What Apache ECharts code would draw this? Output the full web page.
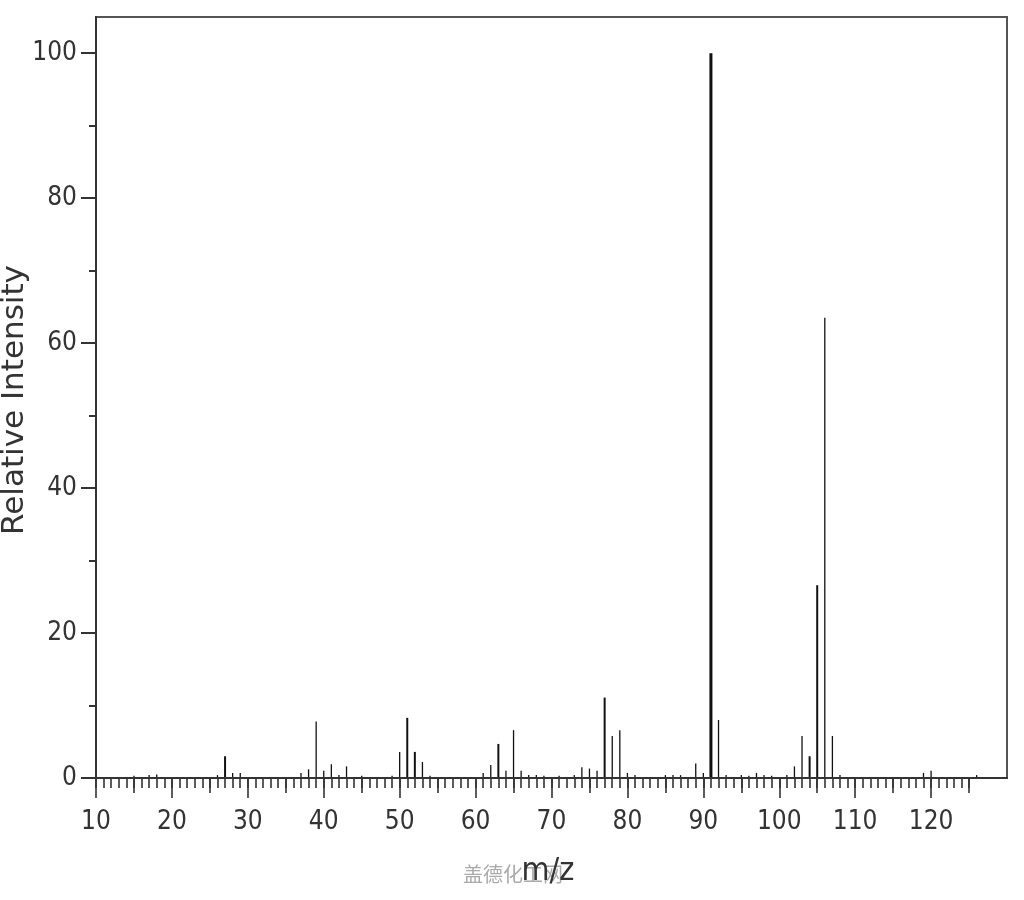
<!DOCTYPE html>
<html><head><meta charset="utf-8">
<script src="https://cdn.jsdelivr.net/npm/echarts@6/dist/echarts.min.js"></script>
<style>html,body{margin:0;padding:0;background:#fff}#c{width:1024px;height:900px}</style>
</head><body><div id="c"></div>
<script>
// ---- data ----
const mzValues = [15,17,18,26,27,28,29,37,38,39,40,41,42,43,45,49,50,51,52,53,54,
  61,62,63,64,65,66,67,68,69,71,73,74,75,76,77,78,79,80,81,85,86,87,89,90,91,92,93,
  95,96,97,98,99,101,102,103,104,105,106,107,108,119,120,126];
const intensities = [0.3,0.4,0.5,0.4,3.0,0.7,0.7,0.7,1.2,7.8,1.0,1.9,0.4,1.6,0.3,0.3,3.6,8.3,3.6,2.2,0.3,
  0.7,1.8,4.7,1.0,6.6,1.0,0.4,0.4,0.3,0.3,0.4,1.5,1.3,1.0,11.1,5.8,6.6,0.7,0.4,0.4,0.4,0.4,2.0,0.7,100,8.0,0.4,
  0.4,0.3,0.7,0.4,0.3,0.4,1.6,5.8,3.0,26.6,63.5,5.8,0.4,0.7,1.0,0.4];
const xTickLabels = [10,20,30,40,50,60,70,80,90,100,110,120];
const yTickLabels = [0,20,40,60,80,100];
const yMinorTicks = [10,30,50,70,90];
const xTitle = 'm/z';
const yTitle = 'Relative Intensity';
const watermark = '盖德化工网';

// ---- style helpers ----
const thickPeaks = new Set([27,51,52,63,77,104,105]);
const xMidTicks = []; for (let v = 15; v <= 125; v += 10) xMidTicks.push(v);
const xUnitTicks = []; for (let v = 10; v <= 125; v++) xUnitTicks.push(v);
const numFont = "'Liberation Sans Narrow','DejaVu Sans Condensed',sans-serif";
const axisColor = '#333';

const chart = echarts.init(document.getElementById('c'), null, {renderer: 'canvas'});
const peaks = mzValues.map((m, i) => [m, intensities[i]]);

function xAx(ticks, len, main) {
  return {
    type: 'value', min: 10, max: 130, position: 'bottom', gridIndex: 0,
    axisLine: {show: main, onZero: false, lineStyle: {color: axisColor, width: 2}},
    axisTick: {show: true, customValues: ticks, length: len, lineStyle: {color: axisColor, width: 1.6}},
    axisLabel: main ? {show: true, customValues: xTickLabels, margin: 31, color: '#333',
      fontFamily: numFont, fontSize: 26} : {show: false},
    splitLine: {show: false}
  };
}
function yAx(ticks, len, main) {
  return {
    type: 'value', min: 0, max: 105, position: 'left', gridIndex: 0,
    axisLine: {show: main, onZero: false, lineStyle: {color: axisColor, width: 2}},
    axisTick: {show: true, customValues: ticks, length: len, lineStyle: {color: axisColor, width: 2}},
    axisLabel: main ? {show: true, customValues: yTickLabels, margin: 19, color: '#333',
      fontFamily: numFont, fontSize: 26} : {show: false},
    splitLine: {show: false}
  };
}

chart.setOption({
  backgroundColor: '#fff',
  animation: false,
  grid: {left: 96, right: 17, top: 17, bottom: 122, show: true, borderColor: '#555', borderWidth: 2,
    backgroundColor: 'transparent'},
  xAxis: [xAx(xTickLabels, 20, true), xAx(xMidTicks, 15, false), xAx(xUnitTicks, 10, false)],
  yAxis: [yAx(yTickLabels, 15, true), yAx(yMinorTicks, 7, false)],
  series: [{
    type: 'custom',
    xAxisIndex: 0, yAxisIndex: 0,
    data: peaks,
    clip: false,
    renderItem: function (params, api) {
      const x = api.value(0), y = api.value(1);
      const p0 = api.coord([x, 0]);
      const p1 = api.coord([x, y]);
      const w = x === 91 ? 3 : (thickPeaks.has(x) ? 2 : 1.3);
      return {type: 'line', shape: {x1: p0[0], y1: p0[1] - 1, x2: p1[0], y2: p1[1]},
        style: {stroke: '#111', lineWidth: w}};
    }
  }],
  graphic: [
    {type: 'text', x: 15, y: 400, rotation: Math.PI / 2,
      style: {text: yTitle, align: 'center', verticalAlign: 'middle', fill: '#333',
        font: "31px 'DejaVu Sans', sans-serif"}},
    {type: 'text', x: 513, y: 874, z: 1,
      style: {text: watermark, align: 'center', verticalAlign: 'middle', fill: '#aaaaaa',
        font: "20px 'Noto Sans CJK SC', sans-serif"}},
    {type: 'text', x: 548, y: 872, z: 2,
      style: {text: xTitle, align: 'center', verticalAlign: 'middle', fill: '#333',
        font: "32px 'Liberation Sans Narrow','DejaVu Sans Condensed', sans-serif"}}
  ]
});
</script></body></html>
